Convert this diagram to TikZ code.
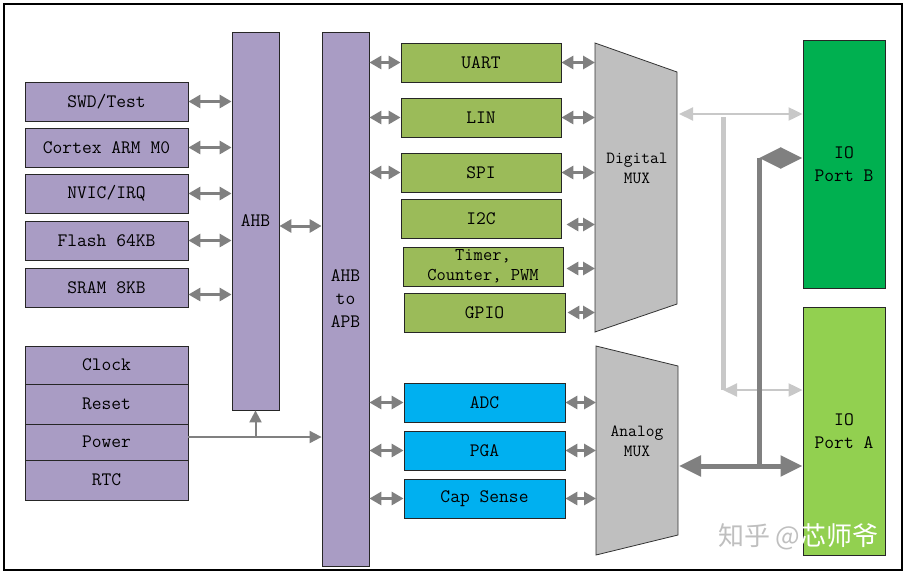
\documentclass[tikz,border=0pt]{standalone}
\usepackage{fontspec}
\newfontfamily\cjk{Noto Sans CJK SC}
\usetikzlibrary{arrows.meta}
\definecolor{purp}{HTML}{A99CC4}
\definecolor{grn}{HTML}{9BBB59}
\definecolor{blu}{HTML}{00B0F0}
\definecolor{dgrn}{HTML}{00B050}
\definecolor{lgrn}{HTML}{92D050}
\definecolor{muxg}{HTML}{BFBFBF}
\definecolor{arrg}{HTML}{808080}
\definecolor{lightarr}{HTML}{C8C8C8}
\begin{document}
\begin{tikzpicture}[x=1pt,y=-1pt,
  blk/.style={draw=black!85, line width=0.8pt, inner sep=0pt, align=center,
    font=\ttfamily\fontsize{19}{23}\selectfont},
  pbox/.style={blk, fill=purp, minimum width=163pt, minimum height=39pt},
  gbox/.style={blk, fill=grn, minimum width=160pt, minimum height=39pt},
  bbox/.style={blk, fill=blu, minimum width=161pt, minimum height=39pt},
  sarr/.style={draw=arrg, line width=3pt,
    {Triangle[length=12pt,width=13pt]}-{Triangle[length=12pt,width=13pt]}},
  bigarr/.style={draw=arrg, line width=5pt,
    {Triangle[length=22pt,width=20pt]}-{Triangle[length=22pt,width=20pt]}},
  larr/.style={draw=lightarr, line width=2pt,
    {Triangle[length=14pt,width=13pt]}-{Triangle[length=14pt,width=13pt]}},
  muxlbl/.style={align=center, font=\ttfamily\fontsize{17}{20}\selectfont}
]
\useasboundingbox (0,0) rectangle (906,574);
\draw[line width=2pt] (4,4) rectangle (902,570);

% left purple blocks
\node[pbox] (swd) at (106.5,101.5) {SWD/Test};
\node[pbox] (cortex) at (106.5,147.5) {Cortex ARM M0};
\node[pbox] (nvic) at (106.5,193.5) {NVIC/IRQ};
\node[pbox] (flash) at (106.5,240.5) {Flash 64KB};
\node[pbox] (sram) at (106.5,287.5) {SRAM 8KB};

% buses
\node[blk, fill=purp, minimum width=47pt, minimum height=378pt] (ahb) at (255.5,221) {AHB};
\node[blk, fill=purp, minimum width=47pt, minimum height=534pt] (apb) at (345.5,299) {AHB\\to\\APB};

% clock stack
\node[pbox, minimum height=38pt] (clock) at (106.5,365) {Clock};
\node[pbox, minimum height=40pt] (reset) at (106.5,404) {Reset};
\node[pbox, minimum height=36pt] (power) at (106.5,442) {Power};
\node[pbox, minimum height=40pt] (rtc) at (106.5,480) {RTC};

% green peripherals
\node[gbox] (uart) at (481,62.5) {UART};
\node[gbox] (lin) at (481,117.5) {LIN};
\node[gbox] (spi) at (481,172.5) {SPI};
\node[gbox] (i2c) at (481,218.5) {I2C};
\node[gbox, font=\ttfamily\fontsize{18}{20}\selectfont] (timer) at (483,266.5) {Timer,\\Counter, PWM};
\node[gbox, minimum width=161pt] (gpio) at (484.5,312.5) {GPIO};

% blue analog
\node[bbox] (adc) at (484.5,402.5) {ADC};
\node[bbox] (pga) at (484.5,450.5) {PGA};
\node[bbox] (cap) at (484.5,498.5) {Cap Sense};

% MUXes
\draw[draw=black!80, line width=0.8pt, fill=muxg] (595,43) -- (677,72) -- (677,304) -- (595,332) -- cycle;
\node[muxlbl] (dmux) at (637,168) {Digital\\MUX};
\draw[draw=black!80, line width=0.8pt, fill=muxg] (596,346) -- (678,366) -- (678,535) -- (596,555) -- cycle;
\node[muxlbl] (amux) at (637,441) {Analog\\MUX};
\coordinate (dmuxL) at (595,190);
\coordinate (amuxL) at (596,450);
\coordinate (dmuxR) at (679,114);
\coordinate (amuxR) at (679,466);

% IO ports
\node[blk, fill=dgrn, minimum width=82pt, minimum height=248pt] (portb) at (844,164) {IO\\Port B};
\node[blk, fill=lgrn, minimum width=82pt, minimum height=248pt] (porta) at (844,431) {IO\\Port A};

% left arrows to AHB
\draw[sarr] (swd.east) -- (swd.east -| ahb.west);
\draw[sarr] (cortex.east) -- (cortex.east -| ahb.west);
\draw[sarr] (nvic.east) -- (nvic.east -| ahb.west);
\draw[sarr] (flash.east) -- (flash.east -| ahb.west);
\draw[sarr] ([yshift=-7pt]sram.east) -- ([yshift=-7pt]sram.east -| ahb.west);
\draw[sarr] ([yshift=-5pt]ahb.east) -- ([yshift=-5pt]ahb.east -| apb.west);

% power arrows
\coordinate (pj) at ([yshift=5pt]power.east -| ahb.south);
\draw[draw=arrg, line width=2pt, -{Triangle[length=12pt,width=12pt]}] ([yshift=5pt]power.east) -- ([yshift=5pt]power.east -| apb.west);
\draw[draw=arrg, line width=2pt, -{Triangle[length=12pt,width=12pt]}] (pj) -- (ahb.south);

% APB to peripherals
\draw[sarr] (uart.west -| apb.east) -- (uart.west);
\draw[sarr] (lin.west -| apb.east) -- (lin.west);
\draw[sarr] (spi.west -| apb.east) -- (spi.west);
\draw[sarr] (adc.west -| apb.east) -- (adc.west);
\draw[sarr] (pga.west -| apb.east) -- (pga.west);
\draw[sarr] (cap.west -| apb.east) -- (cap.west);

% peripherals to digital MUX
\draw[sarr] (uart.east) -- (uart.east -| dmuxL);
\draw[sarr] (lin.east) -- (lin.east -| dmuxL);
\draw[sarr] (spi.east) -- (spi.east -| dmuxL);
\draw[sarr, shorten <=5pt] ([yshift=-6pt]i2c.east) -- ([yshift=-6pt]i2c.east -| dmuxL);
\draw[sarr, shorten <=3pt] ([yshift=-2pt]timer.east) -- ([yshift=-2pt]timer.east -| dmuxL);
\draw[sarr, shorten <=2pt] (gpio.east) -- (gpio.east -| dmuxL);

% analog to analog MUX
\draw[sarr] (adc.east) -- (adc.east -| amuxL);
\draw[sarr] (pga.east) -- (pga.east -| amuxL);
\draw[sarr] (cap.east) -- (cap.east -| amuxL);

% light grey digital routing
\coordinate (lt) at (723,117);
\coordinate (lb) at (723,390);
\draw[larr] (dmuxR) -- (dmuxR -| portb.west);
\draw[draw=lightarr, line width=5pt] (lt) -- (lb);
\draw[larr] (lb) -- (lb -| porta.west);

% dark grey analog routing
\coordinate (dt) at (759,158);
\coordinate (db) at (759,466);
\draw[draw=arrg, line width=5pt] (db) -- (dt);
\draw[bigarr] (amuxR) -- (amuxR -| porta.west);
\draw[bigarr] (dt) -- (dt -| portb.west);

% watermark
\node[font=\cjk\fontsize{26}{26}\selectfont, text=black!25, anchor=east] (wm) at (882,537) {知乎 @\textcolor{white}{芯师爷}};
\end{tikzpicture}
\end{document}
